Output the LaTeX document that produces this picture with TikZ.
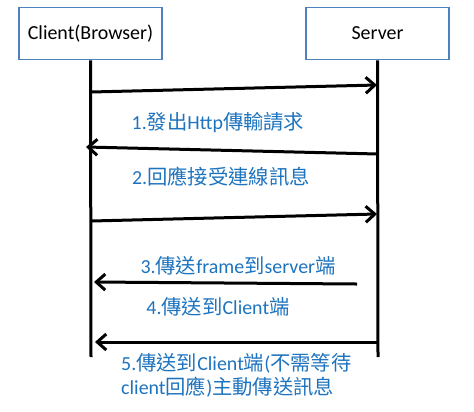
\documentclass[tikz,border=0pt]{standalone}
\usepackage{fontspec}
\setmainfont{Carlito}
\newfontfamily\cjk[Scale=1.02]{Noto Sans CJK TC}
\usetikzlibrary{arrows.meta}
\definecolor{boxblue}{RGB}{79,129,189}
\definecolor{txtblue}{RGB}{30,115,190}
\tikzset{
  actor/.style={draw=boxblue, line width=1.5bp, fill=white, minimum width=143bp, minimum height=52bp, inner sep=0pt, font=\fontsize{20}{24}\selectfont},
  life/.style={line width=3bp},
  msg/.style={line width=3bp, -{Straight Barb[length=9bp,width=16bp,line width=3bp]}},
  lbl/.style={text=txtblue, inner sep=0pt, font=\fontsize{20}{24}\selectfont}
}
\begin{document}
\begin{tikzpicture}[x=1bp,y=-1bp]
\useasboundingbox (0,0) rectangle (474,411);
\node[actor] (c) at (90.5,33.5) {Client(Browser)};
\node[actor] (s) at (377.5,33.5) {Server};
\coordinate (cb) at (91,357);
\coordinate (sb) at (378,357);
\draw[life] (c.south) -- (cb);
\draw[life] (s.south) -- (sb);
% message end points
\coordinate (a1s) at (91,92);  \coordinate (a1e) at (377,85);
\coordinate (a2s) at (378,154); \coordinate (a2e) at (86,147);
\coordinate (a3s) at (91,221); \coordinate (a3e) at (377,214);
\coordinate (a4s) at (357,284); \coordinate (a4e) at (94,282);
\coordinate (a5s) at (378,342); \coordinate (a5e) at (95,342);
\draw[msg] (a1s) -- (a1e);
\draw[msg] (a2s) -- (a2e);
\draw[msg] (a3s) -- (a3e);
\draw[msg] (a4s) -- (a4e);
\draw[msg] (a5s) -- (a5e);
\node[lbl] (l1) at (218,122) {1.{\cjk 發出}Http{\cjk 傳輸請求}};
\node[lbl] (l2) at (221,177) {2.{\cjk 回應接受連線訊息}};
\node[lbl] (l3) at (238,266) {3.{\cjk 傳送}frame{\cjk 到}server{\cjk 端}};
\node[lbl] (l4) at (218,307) {4.{\cjk 傳送到}Client{\cjk 端}};
\node[lbl, anchor=west, align=left] (l5) at (121,375) {5.{\cjk 傳送到}Client{\cjk 端}({\cjk 不需等待}\\client{\cjk 回應})\cjk 主動傳送訊息};
\end{tikzpicture}
\end{document}
